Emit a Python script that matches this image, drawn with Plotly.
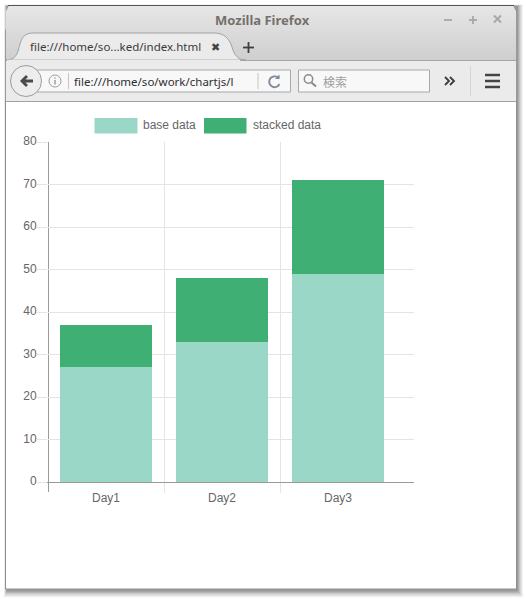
import plotly.graph_objects as go

categories = ["Day1", "Day2", "Day3"]
base_data = [27, 33, 49]
stacked_data = [10, 15, 22]
y_ticks = [0, 10, 20, 30, 40, 50, 60, 70, 80]

W, H = 526, 599
L, R, T, B = 48.0, 414.0, 142.0, 482.0
CAT = 116.0
BASE = "#9AD7C7"
STACK = "#40AF74"
GRID = "#e4e4e4"
AXIS = "#9a9a9a"
TXT = "#666666"


def px(x):
    return (x - L) / (R - L)


def py(y):
    return (B - y) / (B - T)


shapes, notes = [], []


def rect(x0, y0, x1, y1, fill=None, line=None, lw=1, layer="below", opacity=1):
    shapes.append(dict(type="rect", xref="paper", yref="paper", x0=px(x0), x1=px(x1), y0=py(y0), y1=py(y1),
                       fillcolor=fill or "rgba(0,0,0,0)", line=dict(color=line or "rgba(0,0,0,0)", width=lw if line else 0),
                       layer=layer, opacity=opacity))


def path(cmds, fill=None, line=None, lw=1, layer="below"):
    out = []
    for c in cmds:
        if isinstance(c, str):
            out.append(c)
        else:
            out.append(f"{px(c[0]):.5f},{py(c[1]):.5f}")
    shapes.append(dict(type="path", xref="paper", yref="paper", path=" ".join(out),
                       fillcolor=fill or "rgba(0,0,0,0)", line=dict(color=line or "rgba(0,0,0,0)", width=lw if line else 0), layer=layer))


def seg(x0, y0, x1, y1, color, lw=1, layer="below"):
    shapes.append(dict(type="line", xref="paper", yref="paper", x0=px(x0), x1=px(x1), y0=py(y0), y1=py(y1),
                       line=dict(color=color, width=lw), layer=layer))


def circle(cx, cy, r, fill=None, line=None, lw=1, layer="below"):
    shapes.append(dict(type="circle", xref="paper", yref="paper", x0=px(cx - r), x1=px(cx + r), y0=py(cy + r), y1=py(cy - r),
                       fillcolor=fill or "rgba(0,0,0,0)", line=dict(color=line or "rgba(0,0,0,0)", width=lw if line else 0), layer=layer))


def text(x, y, s, size=12, color=TXT, font="Liberation Sans", anchor="left"):
    notes.append(dict(xref="paper", yref="paper", x=px(x), y=py(y), text=s, showarrow=False, xanchor=anchor, yanchor="middle",
                      font=dict(family=font, size=size, color=color), borderpad=0, borderwidth=0))


# window shadow
for i, a in enumerate([0.05, 0.07, 0.09, 0.11, 0.14]):
    d = 5 - i
    rect(7 - d * 0.6, 6 - d * 0.3, 517 + d * 1.2, 590 + d * 1.5, fill=f"rgba(0,0,0,{a})")

# window
rect(5.5, 30, 516.5, 589, fill="#ffffff", line="#8f8f8f", lw=1)
# title bar gradient
for k in range(5, 61):
    t = (k - 5) / 55
    v = int(231 - t * 24)
    if k < 12:
        x0, x1 = 5.5 + (12 - k) * 0.5, 516.5 - (12 - k) * 0.5
    else:
        x0, x1 = 6, 516
    rect(x0, k, x1, k + 1.2, fill=f"rgb({v},{v},{v})")
seg(8, 5.5, 514, 5.5, "#555555", 1)
seg(6, 60.5, 516, 60.5, "#a6a6a6", 1)
rect(6, 61, 516, 101, fill="#ebebeb")
seg(6, 101.5, 516, 101.5, "#a3a3a3", 1)
seg(5.5, 30, 5.5, 101, "#9a9a9a", 1)
seg(516.5, 30, 516.5, 101, "#9a9a9a", 1)

# tab
path(["M", (6, 60), "C", (18, 60), (18, 50), (20, 44), "C", (22, 37), (25, 33), (33, 33), "L", (214, 33),
      "C", (224, 33), (229, 38), (232, 47), "C", (234, 55), (238, 60), (246, 60), "Z"], fill="#ebebeb", line="#a2a2a2", lw=1)
seg(7, 60.5, 240, 60.5, "#ebebeb", 1.5)

text(262, 20, "<b>Mozilla Firefox</b>", 13, "#75706a", "Noto Sans", "center")
text(30, 46.5, "file:///home/so...ked/index.html", 11.5, "#3a3a3a", "Noto Sans")
text(215, 47, "✖", 11, "#444444", "DejaVu Sans", "center")
seg(243, 47.5, 254, 47.5, "#3f3f3f", 1.8)
seg(248.5, 42, 248.5, 53, "#3f3f3f", 1.8)
# window buttons
seg(444, 20, 452, 20, "#a8a8a8", 1.8)
seg(469, 20, 477, 20, "#a8a8a8", 1.8)
seg(473, 16, 473, 24, "#a8a8a8", 1.8)
seg(494, 15.5, 501, 22.5, "#a8a8a8", 2)
seg(494, 22.5, 501, 15.5, "#a8a8a8", 2)

# toolbar
rect(36.5, 70, 290.5, 92, fill="#f8f8f8", line="#a8a8a8")
seg(68.5, 73, 68.5, 89, "#c4c4c4")
seg(258, 73, 258, 89, "#c4c4c4")
circle(26, 81, 15.5, fill="#ededed", line="#9c9c9c")
path(["M", (20, 81), "L", (26, 75), "L", (28, 77), "L", (25.5, 79.5), "L", (33, 79.5), "L", (33, 82.5), "L", (25.5, 82.5),
      "L", (28, 85), "L", (26, 87), "Z"], fill="#4a4a4a")
circle(55, 81, 6, line="#9d9d9d")
seg(55, 80, 55, 84.5, "#8a8a8a", 1.2)
seg(55, 77.5, 55, 78.8, "#8a8a8a", 1.2)
text(74, 81, "file:///home/so/work/chartjs/l", 11.5, "#2e2e2e", "Noto Sans")
# reload
path(["M", (279, 78), "C", (277, 75.5), (271, 75.5), (269.5, 80), "C", (268, 85), (273, 88), (276, 87), "C", (278, 86.5), (279, 85), (279.5, 84)],
     line="#7d8b99", lw=1.8)
path(["M", (275, 79), "L", (279.5, 79), "L", (279.5, 74.5), "Z"], fill="#7d8b99")
rect(298.5, 70, 429.5, 92, fill="#f8f8f8", line="#a8a8a8")
circle(308.5, 79, 4.2, line="#8a8a8a", lw=1.5)
seg(311.5, 82.5, 316, 86.5, "#8a8a8a", 2)
text(323, 81, "検索", 12, "#a0a0a0", "Noto Sans CJK JP")
path(["M", (445, 77), "L", (449, 81), "L", (445, 85)], line="#3c3c3c", lw=1.8)
path(["M", (450, 77), "L", (454, 81), "L", (450, 85)], line="#3c3c3c", lw=1.8)
seg(470.5, 66, 470.5, 96, "#d4d4d4")
for yy in (75, 81, 87):
    seg(485, yy, 500, yy, "#444444", 2.5)

# chart legend drawn to the reference's wide swatches
rect(94.5, 118, 137.5, 133.5, fill=BASE)
text(143, 125, "base data", 12)
rect(204, 118, 246.5, 133.5, fill=STACK)
text(253, 125, "stacked data", 12)

# y axis line and darker foot of the axes
seg(48.5, 142, 48.5, 492, AXIS)
seg(38, 482.5, 48, 482.5, AXIS)

x_pos = list(range(len(categories)))
fig = go.Figure()
fig.add_bar(x=x_pos, y=base_data, name="base data", marker=dict(color=BASE, line=dict(width=0)), width=0.8, showlegend=False)
fig.add_bar(x=x_pos, y=stacked_data, name="stacked data", marker=dict(color=STACK, line=dict(width=0)), width=0.8, showlegend=False)

fig.update_layout(
    barmode="stack", width=W, height=H, autosize=False,
    margin=dict(l=L, r=W - R, t=T, b=H - B, pad=0),
    paper_bgcolor="#ffffff", plot_bgcolor="rgba(0,0,0,0)",
    font=dict(family="Liberation Sans", size=12, color=TXT),
    shapes=shapes, annotations=notes, showlegend=False,
    xaxis=dict(range=[-0.5, -0.5 + (R - L) / CAT], tickmode="array", tickvals=x_pos, ticktext=categories,
               showgrid=False, zeroline=False, ticks="outside", ticklen=10, tickcolor="rgba(0,0,0,0)",
               ticklabelstandoff=-5,
               showline=True, linecolor=AXIS, linewidth=1,
               minor=dict(tickmode="array", tickvals=[0.5, 1.5], showgrid=True, gridcolor=GRID, gridwidth=1,
                          ticks="outside", ticklen=10, tickcolor=GRID)),
    yaxis=dict(range=[0, 80], tickmode="array", tickvals=y_ticks, showgrid=True, gridcolor=GRID, gridwidth=1,
               zeroline=False, ticks="outside", ticklen=10, tickcolor=GRID, showline=False,
               ticklabelstandoff=-2, ticklabelshift=-1),
)
fig.write_html("out.html", config=dict(displayModeBar=False),
               post_script="document.body.style.margin='0';document.body.style.overflow='hidden';")
